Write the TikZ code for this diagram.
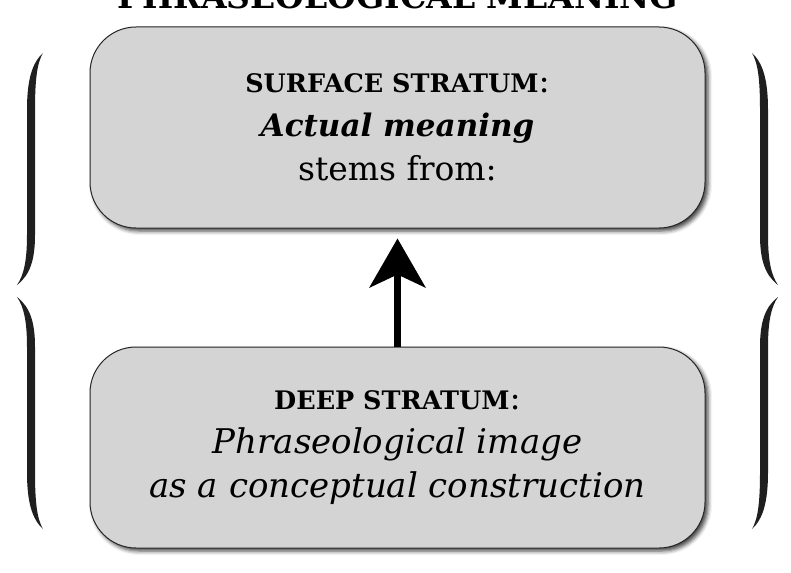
\documentclass[tikz,border=0pt]{standalone}
\usepackage{fontspec}
\setmainfont{DejaVu Serif}
\usetikzlibrary{arrows.meta,shadows.blur}
\definecolor{boxgray}{RGB}{212,212,212}
\tikzset{
  stratumbox/.style={draw=black!85, line width=1pt, fill=boxgray,
    rounded corners=46pt, minimum width=615pt, minimum height=201pt,
    align=center, inner sep=0pt, font=\fontsize{33}{44}\selectfont,
    blur shadow={shadow xshift=3pt, shadow yshift=-3pt,
      shadow blur radius=4pt, shadow opacity=75}},
  titletext/.style={font=\bfseries\fontsize{33}{40}\selectfont, anchor=base, inner sep=0pt},
  bracefill/.style={fill=black!88},
  uparrow/.style={line width=6.5pt, -{Stealth[length=49pt,width=56pt,inset=13pt]},
    shorten >=10pt}
}
\newcommand\capsline[1]{{\bfseries\fontsize{25.5}{44}\selectfont #1}}
\newcommand\halfbrace{%
  \fill[bracefill] (0,0) .. controls (7,-10) and (10,-25) .. (10,-50)
    -- (10,-175) .. controls (10,-205) and (15,-222) .. (26,-232)
    .. controls (20,-222) and (18,-205) .. (18,-175)
    -- (18,-50) .. controls (18,-25) and (13,-10) .. (0,0) -- cycle;}
\begin{document}
\begin{tikzpicture}[x=1pt,y=-1pt]
\useasboundingbox (0,0) rectangle (791,572);
\node[titletext] (title) at (398,9) {PHRASEOLOGICAL MEANING};
\node[stratumbox] (surface) at (397.5,127.5)
  {\capsline{SURFACE STRATUM}:\\ {\fontsize{31}{44}\selectfont\textbf{\textit{Actual meaning}}}\\ stems from:};
\node[stratumbox] (deep) at (397.5,447.5)
  {\capsline{DEEP STRATUM}:\\ {\fontsize{34}{44}\selectfont\textit{Phraseological image}}\\ {\fontsize{34}{44}\selectfont\textit{as a conceptual construction}}};
\draw[uparrow] (deep.north) -- (surface.south);
\begin{scope}[shift={(17,285)}]\halfbrace\end{scope}
\begin{scope}[shift={(17,297)}, yscale=-1]\halfbrace\end{scope}
\begin{scope}[shift={(778,285)}, xscale=-1]\halfbrace\end{scope}
\begin{scope}[shift={(778,297)}, xscale=-1, yscale=-1]\halfbrace\end{scope}
\end{tikzpicture}
\end{document}
